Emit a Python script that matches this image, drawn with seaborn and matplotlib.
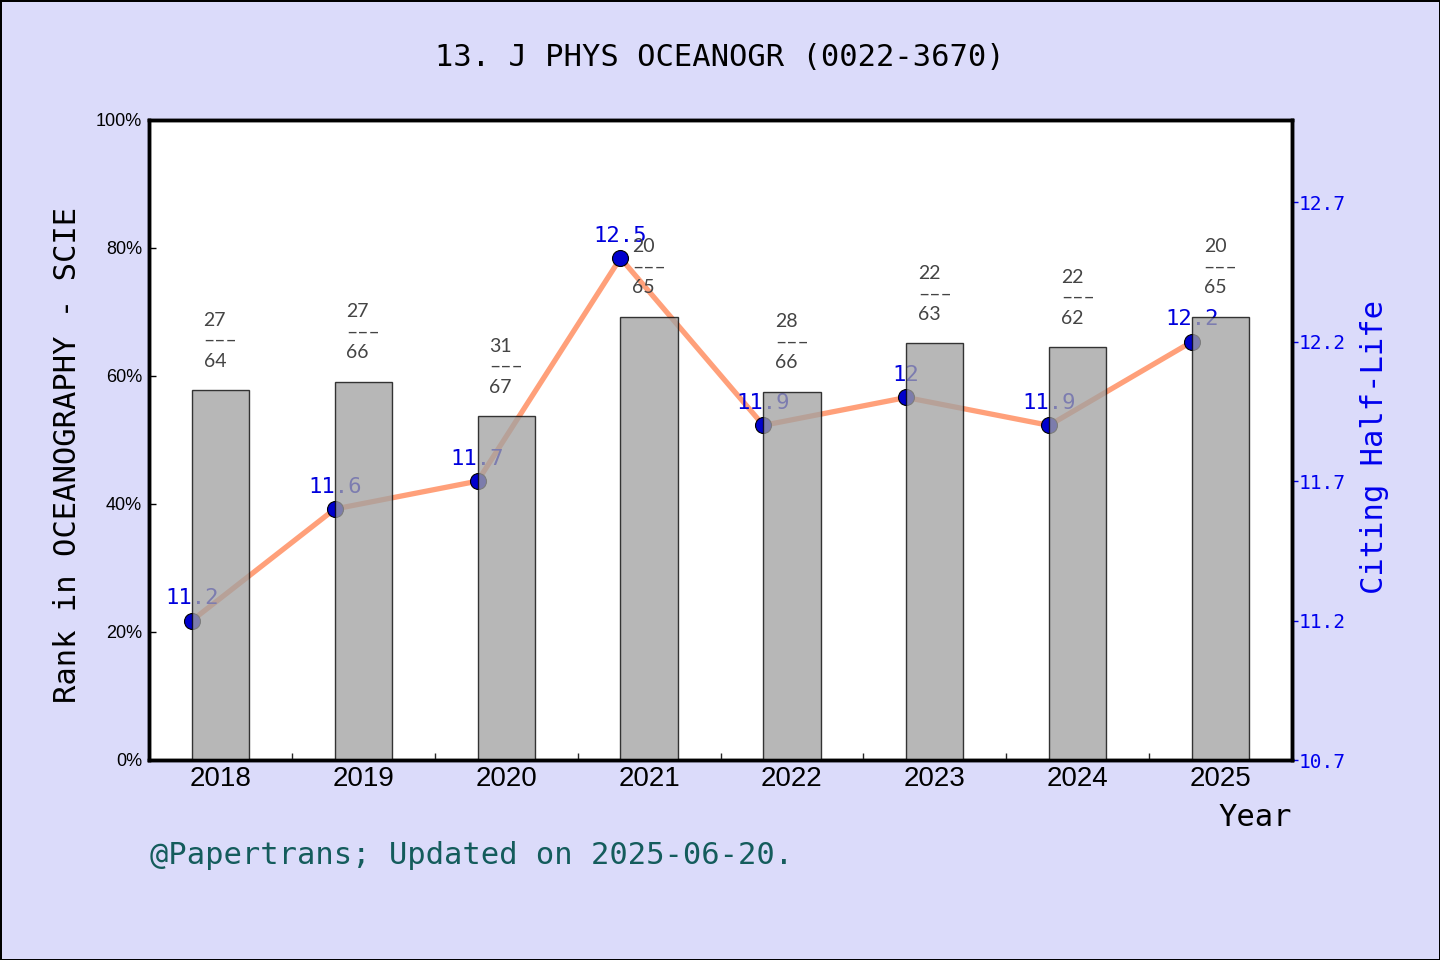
import matplotlib
matplotlib.use("Agg")
import matplotlib.pyplot as plt
import seaborn as sns
import pandas as pd
from matplotlib.ticker import FixedLocator, PercentFormatter

years = ["2018", "2019", "2020", "2021", "2022", "2023", "2024", "2025"]
ranks = [27, 27, 31, 20, 28, 22, 22, 20]
totals = [64, 66, 67, 65, 66, 63, 62, 65]
half_life = [11.2, 11.6, 11.7, 12.5, 11.9, 12.0, 11.9, 12.2]
half_life_labels = ["11.2", "11.6", "11.7", "12.5", "11.9", "12", "11.9", "12.2"]
right_ticks = [10.7, 11.2, 11.7, 12.2, 12.7]

BAR_W = 0.4
df = pd.DataFrame({
    "Year": years,
    "pct": [1 - r / t for r, t in zip(ranks, totals)],
    "hl": half_life,
})
df["x"] = range(len(df))
df["xl"] = df["x"] - BAR_W / 2  # line points sit at the bars' left edges

sns.set_theme(style="white")
plt.rcParams["font.family"] = ["DejaVu Sans Mono", "DejaVu Sans"]

bg = "#dbdbfa"
fig = plt.figure(figsize=(14.4, 9.6), dpi=100, facecolor=bg)
fig.patch.set_edgecolor("black")
fig.patch.set_linewidth(2)
ax = fig.add_axes([149 / 1440, 200 / 960, (1292 - 149) / 1440, 640 / 960])
ax2 = ax.twinx()

# line on ax2 (drawn beneath the bars)
sns.lineplot(data=df, x="xl", y="hl", ax=ax2, color="#ffa07a", linewidth=3.8,
             marker="o", markersize=11.5, markerfacecolor="#0000cd",
             markeredgecolor="black", markeredgewidth=0.8, zorder=2)
for xi, yi, lab in zip(df["xl"], df["hl"], half_life_labels):
    ax2.annotate(lab, (xi, yi), xytext=(0, 9), textcoords="offset points",
                 ha="center", va="bottom", fontsize=16, color="#0000dd",
                 family="DejaVu Sans Mono", zorder=3)
ax2.set_ylim(10.7, 12.995)
ax2.yaxis.set_major_locator(FixedLocator(right_ticks))
ax2.set_yticklabels([f"{v:.1f}" for v in right_ticks])
ax2.tick_params(axis="y", direction="out", length=4, width=1, colors="#0000ee",
                labelsize=14, pad=1)
for lab in ax2.get_yticklabels():
    lab.set_family("DejaVu Sans Mono")
ax2.set_ylabel("Citing Half-Life", color="#0000ee", fontsize=22, labelpad=10)
ax2.yaxis.label.set_y(0.489)

# bars on ax (on top, semi-transparent)
ax.set_zorder(ax2.get_zorder() + 1)
ax.patch.set_visible(False)
ax2.patch.set_facecolor("white")
ax2.patch.set_visible(True)
sns.barplot(data=df, x="x", y="pct", ax=ax, color="#a2a2a2", alpha=0.77,
            width=BAR_W, edgecolor="black", linewidth=1, saturation=1, native_scale=True)
for p in ax.patches:
    p.set_alpha(0.77)
for xi, pc, r, t in zip(df["x"], df["pct"], ranks, totals):
    ax.text(xi, pc + 0.032, f"{r}\n–––\n{t}", ha="center", va="bottom",
            multialignment="left", fontsize=14, color="#444444",
            family=["Lato", "DejaVu Sans"], linespacing=1.25)

ax.set_xlim(-0.5, 7.5)
ax.set_ylim(0, 1)
ax.yaxis.set_major_formatter(PercentFormatter(1.0, decimals=0))
ax.set_yticks([0, 0.2, 0.4, 0.6, 0.8, 1.0])
ax.tick_params(axis="y", direction="in", length=5, width=1, labelsize=13,
               colors="black", pad=5, left=True)
for lab in ax.get_yticklabels():
    lab.set_family(["Liberation Sans", "DejaVu Sans"])
ax.set_xticks(df["x"])
ax.set_xticklabels(years)
ax.tick_params(axis="x", length=0, labelsize=20, pad=4, colors="black")
for lab in ax.get_xticklabels():
    lab.set_family(["Liberation Sans", "DejaVu Sans"])
ax.set_xticks([i + 0.5 for i in range(7)], minor=True)
ax.tick_params(axis="x", which="minor", direction="in", length=5, width=1, bottom=True)
ax.set_xlabel("")
ax.set_ylabel("Rank in OCEANOGRAPHY - SCIE", fontsize=22, color="black", labelpad=10)
ax.yaxis.label.set_y(0.477)
ax.text(1.0, -0.09, "Year", transform=ax.transAxes, ha="right", va="center",
        fontsize=22, color="black")

for a in (ax, ax2):
    for s in a.spines.values():
        s.set_visible(True)
        s.set_color("black")
        s.set_linewidth(2.5)

fig.text(0.5, 1 - 57 / 960, "13. J PHYS OCEANOGR (0022-3670)", ha="center",
         va="center", fontsize=22, color="black")
fig.text(150 / 1440, 1 - 855 / 960, "@Papertrans; Updated on 2025-06-20.",
         ha="left", va="center", fontsize=22, color="#145c5c")

fig.savefig("out.png", dpi=100, facecolor=bg, edgecolor="black")
